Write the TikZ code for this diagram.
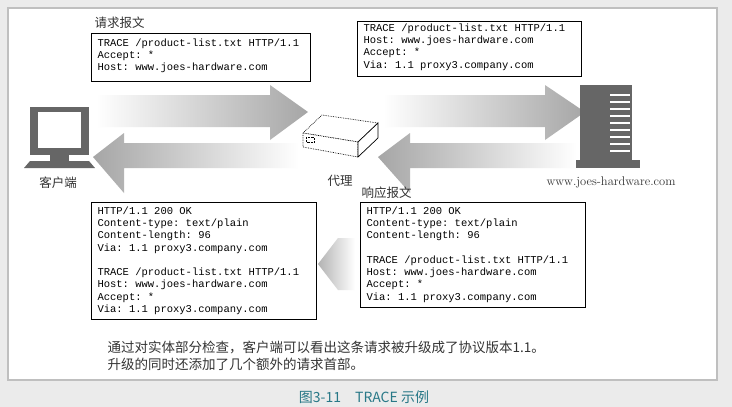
\documentclass[tikz,border=0pt]{standalone}
\usepackage{fontspec}
\setmonofont{Liberation Mono}
\newfontfamily\cjk{Noto Sans CJK SC}
\begin{document}
\begin{tikzpicture}[x=1pt,y=-1pt,
  msg/.style={draw=black,line width=1pt,fill=white,anchor=north west,inner sep=0pt},
  lbl/.style={font=\cjk\fontsize{12.5}{14}\selectfont,text=black!80},
  dark/.style={fill=black!60}]
\useasboundingbox (0,0) rectangle (732,407);
\fill[black!8] (0,0) rectangle (732,407);
\draw[black!25,fill=white,line width=1.2pt] (8,8) rectangle (717,380);
% big arrows
\shade[left color=white,right color=black!35] (96,95) -- (270,95) -- (270,85) -- (308,112) -- (270,140) -- (270,127) -- (96,127) -- cycle;
\shade[left color=white,right color=black!35] (383,95) -- (545,95) -- (545,85) -- (585,112) -- (545,140) -- (545,127) -- (383,127) -- cycle;
\shade[left color=black!35,right color=white] (299,143) -- (124,143) -- (124,133) -- (93,157) -- (124,193) -- (124,168) -- (299,168) -- cycle;
\shade[left color=black!35,right color=white] (577,143) -- (410,143) -- (410,133) -- (378,157) -- (410,193) -- (410,168) -- (577,168) -- cycle;
\shade[left color=black!30,right color=white] (318,264) -- (338,238) -- (355,238) -- (355,290) -- (338,290) -- cycle;
% computer
\fill[black!60] (30,107) rectangle (89,155);
\fill[white] (38,112) rectangle (81,148);
\fill[black!60] (50,155) rectangle (69,161);
\fill[black!60] (30,161) -- (89,161) -- (95,168) -- (24,168) -- cycle;
% server
\fill[black!60] (580,85) rectangle (632,160);
\fill[black!60] (576,160) rectangle (640,168);
\foreach \yy in {95,102,...,153} \draw[white,line width=1.2pt] (610,\yy) -- (630,\yy);
% proxy
\begin{scope}[densely dotted,line width=0.7pt]
\draw[fill=white] (303,133) -- (322,115) -- (378,123) -- (358,142) -- cycle;
\draw[fill=white] (303,133) -- (358,142) -- (358,157) -- (303,147) -- cycle;
\end{scope}
\draw[fill=white,line width=0.7pt] (358,142) -- (378,123) -- (378,138) -- (358,157) -- cycle;
\draw[densely dotted] (306,137) rectangle (314,142);
% message boxes
\node[msg] (b1) at (91,33) {\begin{minipage}[t]{219pt}\ttfamily\fontsize{10.5}{12.3}\selectfont\vspace{5pt}\hspace*{6pt}TRACE /product-list.txt HTTP/1.1\\\hspace*{6pt}Accept: *\\\hspace*{6pt}Host: www.joes-hardware.com\vspace{9pt}\end{minipage}};
\node[msg] (b2) at (357,21) {\begin{minipage}[t]{224pt}\ttfamily\fontsize{10.5}{12.3}\selectfont\vspace{2pt}\hspace*{6pt}TRACE /product-list.txt HTTP/1.1\\\hspace*{6pt}Host: www.joes-hardware.com\\\hspace*{6pt}Accept: *\\\hspace*{6pt}Via: 1.1 proxy3.company.com\vspace{6pt}\end{minipage}};
\node[msg] (b3) at (91,202) {\begin{minipage}[t]{225pt}\ttfamily\fontsize{10.5}{12.3}\selectfont\vspace{4pt}\hspace*{6pt}HTTP/1.1 200 OK\\\hspace*{6pt}Content-type: text/plain\\\hspace*{6pt}Content-length: 96\\\hspace*{6pt}Via: 1.1 proxy3.company.com\\[12.3pt]\hspace*{6pt}TRACE /product-list.txt HTTP/1.1\\\hspace*{6pt}Host: www.joes-hardware.com\\\hspace*{6pt}Accept: *\\\hspace*{6pt}Via: 1.1 proxy3.company.com\vspace{5pt}\end{minipage}};
\node[msg] (b4) at (360,202) {\begin{minipage}[t]{225pt}\ttfamily\fontsize{10.5}{12.3}\selectfont\vspace{4pt}\hspace*{6pt}HTTP/1.1 200 OK\\\hspace*{6pt}Content-type: text/plain\\\hspace*{6pt}Content-length: 96\\[12.3pt]\hspace*{6pt}TRACE /product-list.txt HTTP/1.1\\\hspace*{6pt}Host: www.joes-hardware.com\\\hspace*{6pt}Accept: *\\\hspace*{6pt}Via: 1.1 proxy3.company.com\vspace{5pt}\end{minipage}};
% labels
\node[lbl,anchor=west] (l1) at (91,23) {请求报文};
\node[lbl] (l2) at (58,183) {客户端};
\node[lbl] (l3) at (340,181) {代理};
\node[lbl,anchor=west] (l4) at (358,193) {响应报文};
\node[font=\fontsize{12.5}{14}\selectfont,text=black!80] (l5) at (611,182) {www.joes-hardware.com};
\node[lbl,anchor=north west,font=\cjk\fontsize{13.5}{17}\selectfont,align=left] (t) at (104,338) {通过对实体部分检查，客户端可以看出这条请求被升级成了协议版本1.1。\\升级的同时还添加了几个额外的请求首部。};
\node[font=\cjk\fontsize{14}{16}\selectfont,text={rgb,255:red,40;green,120;blue,135}] (cap) at (364,397) {图3-11\quad TRACE 示例};
\end{tikzpicture}
\end{document}
